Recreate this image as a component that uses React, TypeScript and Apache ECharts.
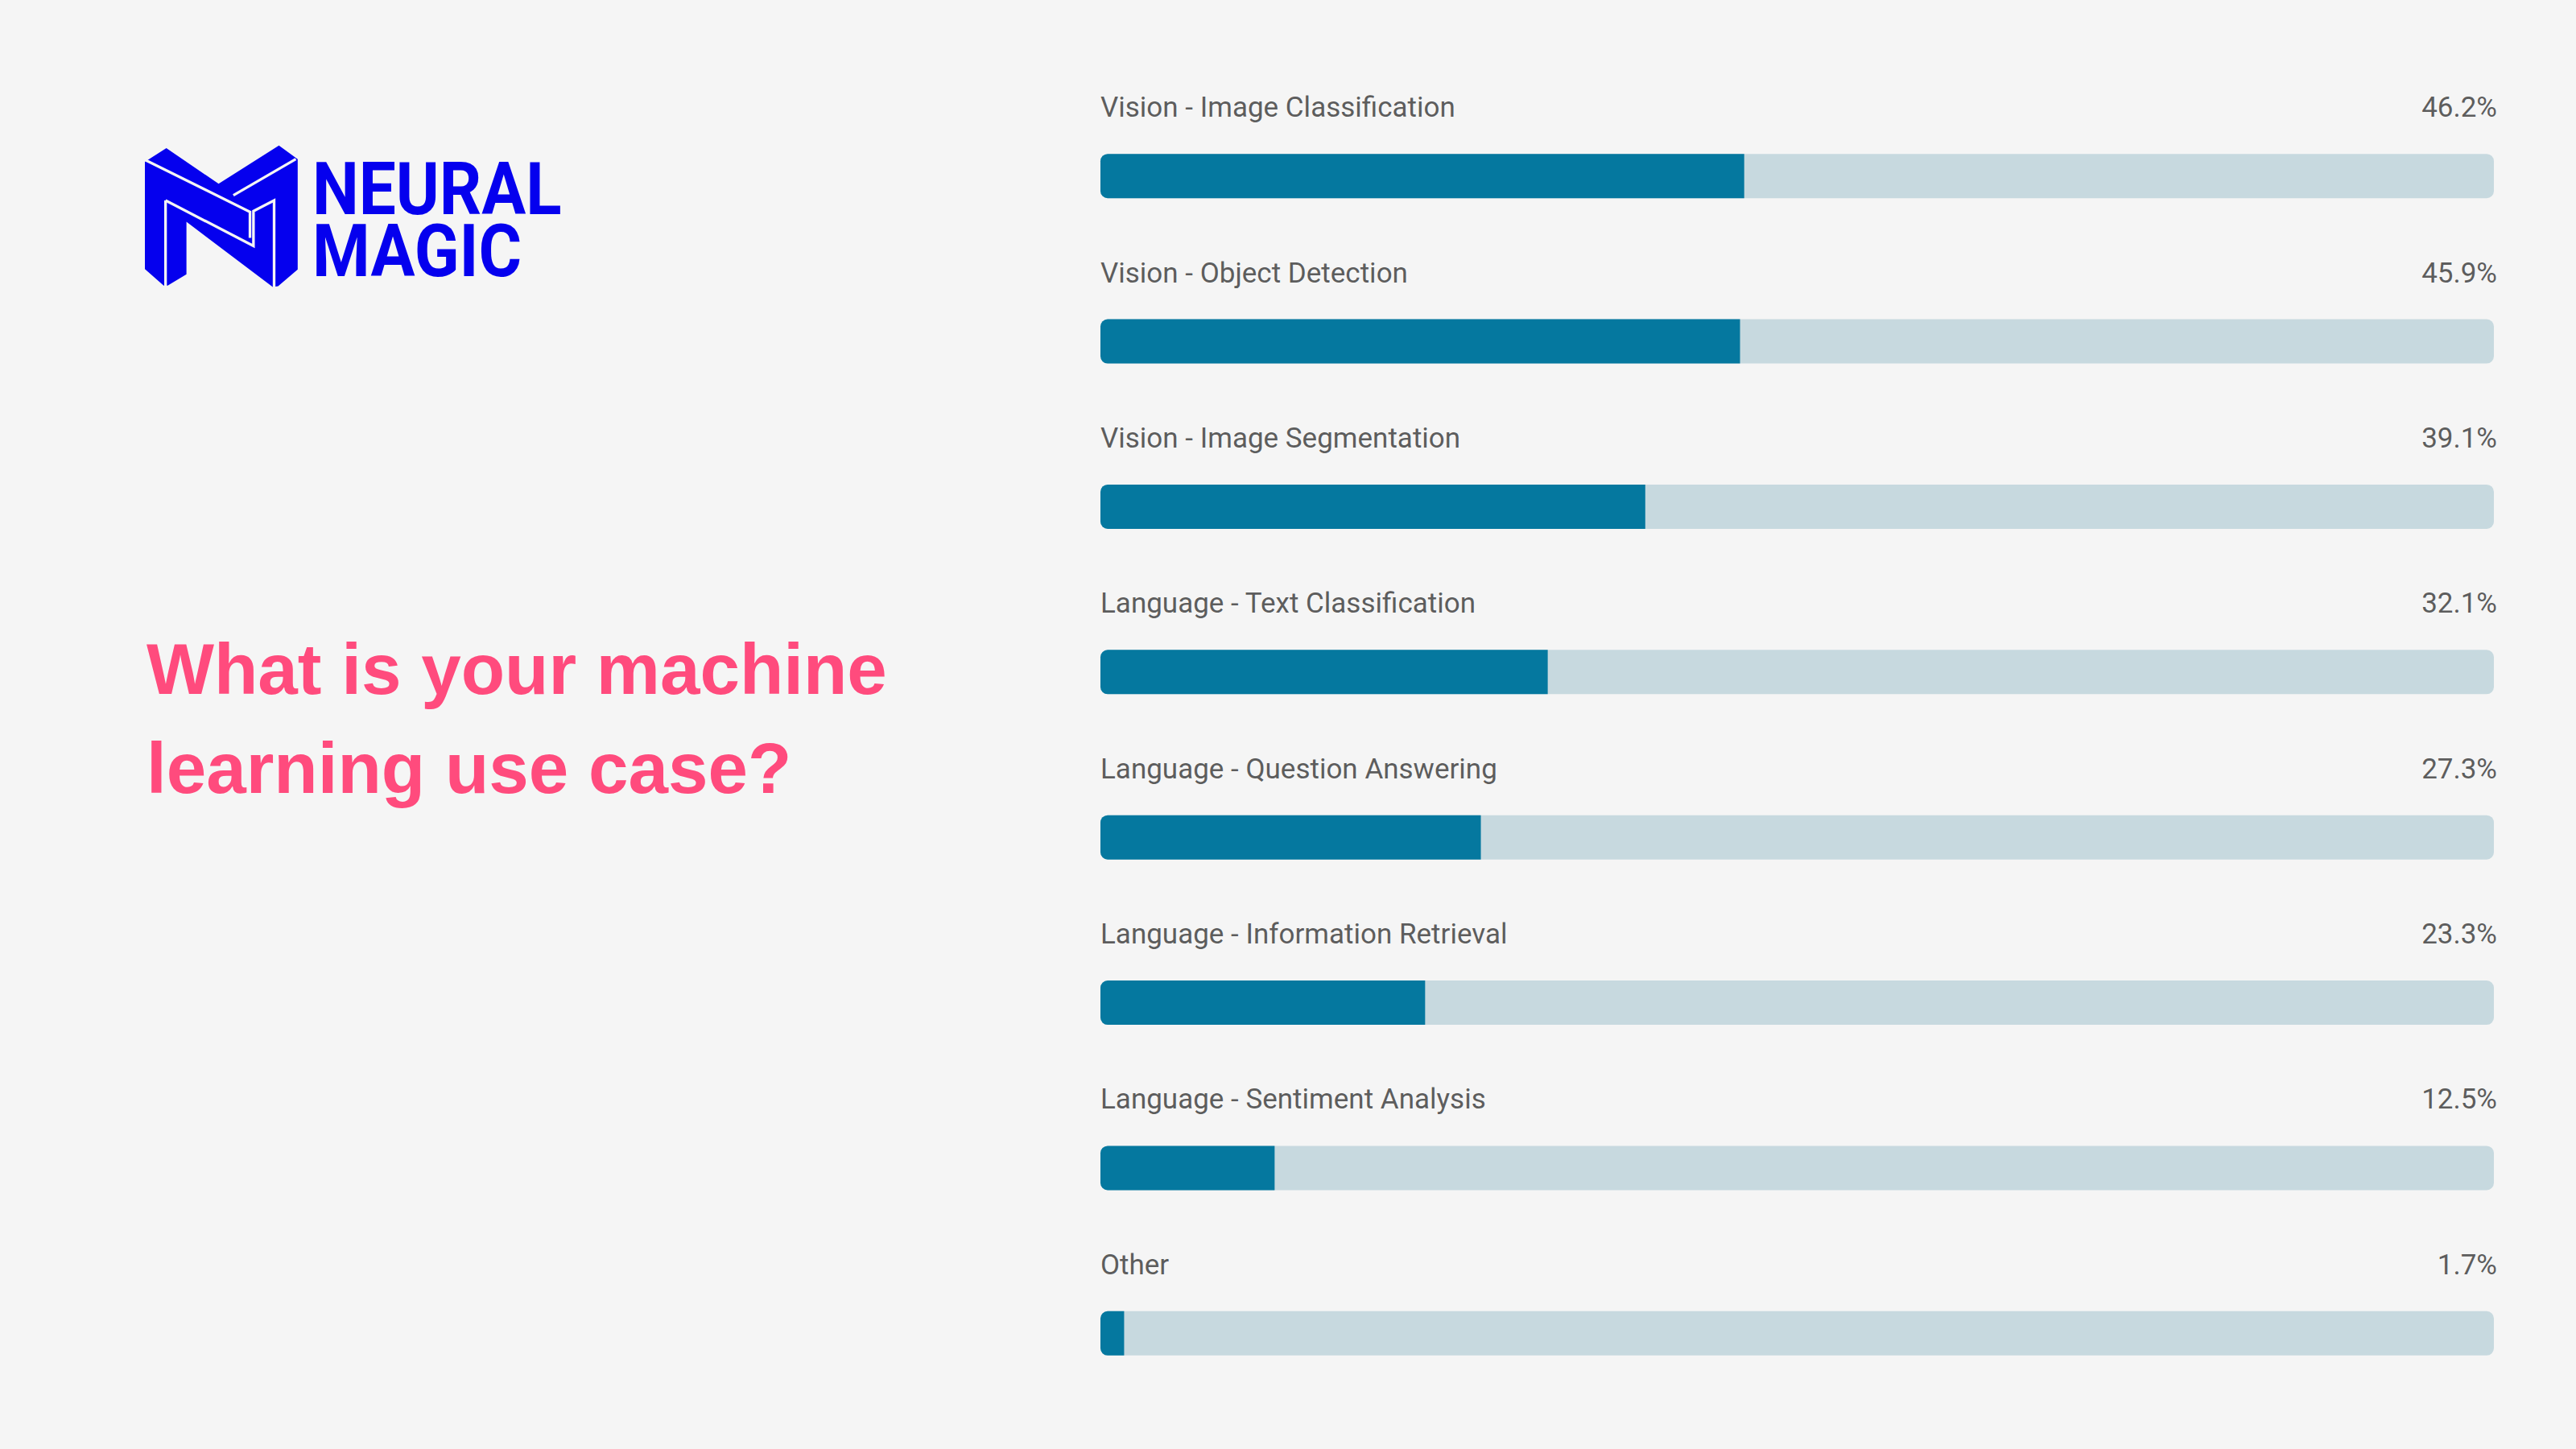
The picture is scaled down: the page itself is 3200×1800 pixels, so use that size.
import React, { useEffect, useRef } from "react";
import * as echarts from "echarts";

const categories = [
  "Vision - Image Classification",
  "Vision - Object Detection",
  "Vision - Image Segmentation",
  "Language - Text Classification",
  "Language - Question Answering",
  "Language - Information Retrieval",
  "Language - Sentiment Analysis",
  "Other",
];
const values = [46.2, 45.9, 39.1, 32.1, 27.3, 23.3, 12.5, 1.7];
const titleLines = ["What is your machine", "learning use case?"];
const brandLines = ["NEURAL", "MAGIC"];

const BLUE = "#0500EE";
const BG = "#F5F5F5";

const silhouette = [
  [15, 78], [95, 27], [290, 160], [515, 17], [585, 68], [585, 480], [512, 542],
  [492, 545], [170, 302], [170, 498], [100, 540], [85, 540], [15, 478],
];
const gapLines = [
  [[18, 72], [407, 265], [407, 362]],
  [[92, 222], [420, 392], [420, 262], [497, 222], [497, 548]],
  [[92, 222], [92, 545]],
  [[345, 203], [578, 68]],
];

export default function App() {
  const ref = useRef<HTMLDivElement>(null);
  useEffect(() => {
    const chart = echarts.init(ref.current!, null, { renderer: "svg" });
    const labelFont = { fontFamily: "Roboto", fontSize: 35, color: "#333333" };
    chart.setOption({
      animation: false,
      backgroundColor: BG,
      grid: { left: 1367, right: 102, top: 116, height: 1643 },
      xAxis: { type: "value", min: 0, max: 100, show: false },
      yAxis: { type: "category", data: categories, inverse: true, show: false },
      series: [
        {
          type: "bar",
          data: values,
          barWidth: 55,
          showBackground: true,
          backgroundStyle: { color: "#C7D9DF", borderRadius: 9 },
          itemStyle: { color: "#05789F", borderRadius: [9, 0, 0, 9] },
          silent: true,
        },
        {
          type: "scatter",
          data: categories.map((c) => [0, c]),
          symbolSize: 0,
          clip: false,
          silent: true,
          label: {
            show: true,
            position: "right",
            distance: 0,
            offset: [0, -85],
            formatter: (p: any) => categories[p.dataIndex],
            ...labelFont,
          },
        },
        {
          type: "scatter",
          data: categories.map((c) => [100, c]),
          symbolSize: 0,
          clip: false,
          silent: true,
          label: {
            show: true,
            position: "left",
            distance: 0,
            offset: [4, -85],
            formatter: (p: any) => values[p.dataIndex].toFixed(1) + "%",
            ...labelFont,
          },
        },
      ],
      graphic: [
        {
          type: "group",
          x: 175,
          y: 175,
          scaleX: 1 / 3,
          scaleY: 1 / 3,
          silent: true,
          children: [
            { type: "polygon", shape: { points: silhouette }, style: { fill: BLUE } },
            ...gapLines.map((pts) => ({
              type: "polyline",
              shape: { points: pts },
              style: { stroke: BG, lineWidth: 10, fill: null },
            })),
          ],
        },
        ...brandLines.map((t, i) => ({
          type: "text",
          x: 388,
          y: 235 + i * 77,
          scaleX: 0.91,
          silent: true,
          style: {
            text: t,
            fontFamily: "Roboto",
            fontWeight: "bold",
            fontSize: 90,
            fill: BLUE,
            verticalAlign: "middle",
            align: "left",
          },
        })),
        ...titleLines.map((t, i) => ({
          type: "text",
          x: 182,
          y: 831 + i * 123,
          silent: true,
          style: {
            text: t,
            fontFamily: "Liberation Sans",
            fontWeight: "bold",
            fontSize: 89,
            fill: "#FF4B7D",
            verticalAlign: "middle",
            align: "left",
          },
        })),
      ],
    });
    return () => chart.dispose();
  }, []);
  return (
    <div
      ref={ref}
      style={{ position: "fixed", left: 0, top: 0, width: 3200, height: 1800 }}
    />
  );
}
